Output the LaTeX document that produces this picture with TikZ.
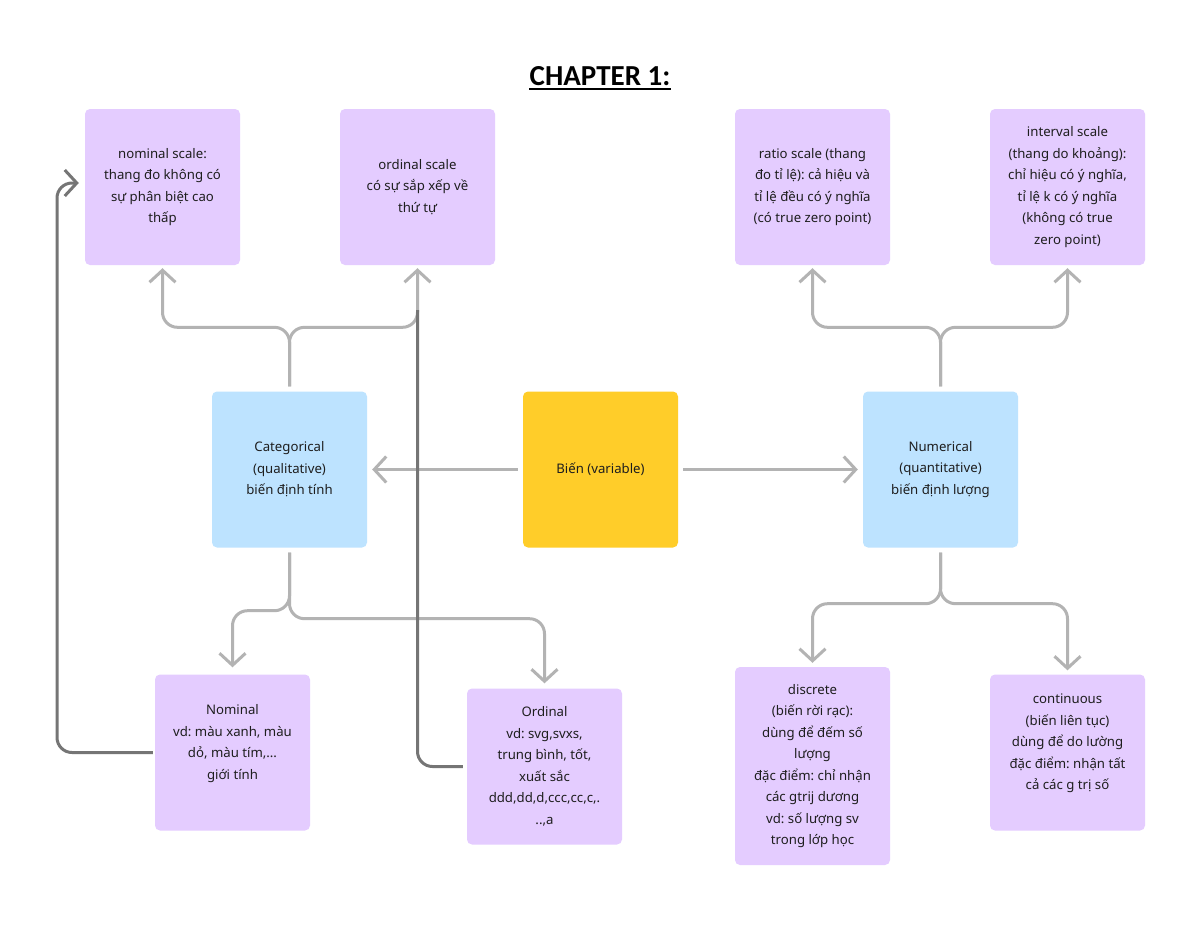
\documentclass[tikz,border=0pt]{standalone}
\usepackage{fontspec}
\setmainfont{Noto Sans}
\newfontfamily\titlefont{Carlito}
\usetikzlibrary{arrows.meta}
\definecolor{purp}{HTML}{E4CCFF}
\definecolor{bluebox}{HTML}{BDE3FF}
\definecolor{yel}{HTML}{FFCD29}
\definecolor{lightc}{HTML}{B3B3B3}
\definecolor{darkc}{HTML}{757575}
\definecolor{txt}{HTML}{1E1E1E}
\frenchspacing
\begin{document}
\begin{tikzpicture}[x=1pt,y=-1pt,
  box/.style={rectangle, rounded corners=5pt, minimum width=155pt, minimum height=156pt,
    inner sep=2pt, align=center, font=\fontsize{13.2}{21.5}\selectfont, text=txt},
  pbox/.style={box, fill=purp},
  bbox/.style={box, fill=bluebox},
  ybox/.style={box, fill=yel},
  boxtext/.style={inner sep=0pt, align=center, font=\fontsize{13.2}{21.5}\selectfont, text=txt},
  conn/.style={draw=lightc, line width=3pt, rounded corners=15pt,
    -{Straight Barb[length=12pt,width=26pt]}},
  dconn/.style={conn, draw=darkc},
  dline/.style={draw=darkc, line width=3pt, rounded corners=15pt}]
\fill[white] (0,0) rectangle (1200,927);
\useasboundingbox (0,0) rectangle (1200,927);

% title
\node[inner sep=0pt, anchor=base, font=\titlefont\bfseries\fontsize{29}{33}\selectfont, text=black] (title) at (600,85) {CHAPTER 1:};
\draw[line width=2.2pt, black] ([yshift=-4pt]title.base west) -- ([yshift=-4pt]title.base east);

% top boxes
\node[pbox] (nomS) at (162.5,187) {nominal scale:\\thang đo không có\\sự phân biệt cao\\thấp};
\node[pbox] (ordS) at (417.5,187) {ordinal scale\\có sự sắp xếp về\\thứ tự};
\node[pbox] (ratio) at (812.5,187) {ratio scale (thang\\đo tỉ lệ): cả hiệu và\\tỉ lệ đều có ý nghĩa\\(có true zero point)};
\node[pbox] (interval) at (1067.5,187) {interval scale\\(thang do khoảng):\\chỉ hiệu có ý nghĩa,\\tỉ lệ k có ý nghĩa\\(không có true\\zero point)};

% middle boxes
\node[bbox] (cat) at (289.5,469.5) {Categorical\\(qualitative)\\biến định tính};
\node[ybox] (bien) at (600.5,469.5) {Biến (variable)};
\node[bbox] (num) at (940.5,469.5) {Numerical\\(quantitative)\\biến định lượng};

% bottom boxes
\node[pbox] (nom) at (232.5,752.5) {};
\node[boxtext] (nomT) at ([yshift=9pt]nom.center) {Nominal\\vd: màu xanh, màu\\dỏ, màu tím,...\\giới tính};
\node[pbox] (ord) at (544.5,766.5) {Ordinal\\vd: svg,svxs,\\trung bình, tốt,\\xuất sắc\\ddd,dd,d,ccc,cc,c,.\\..,a};
\node[pbox, minimum height=198pt] (disc) at (812.5,766) {discrete\\(biến rời rạc):\\dùng để đếm số\\lượng\\đặc điểm: chỉ nhận\\các gtrij dương\\vd: số lượng sv\\trong lớp học};
\node[pbox] (cont) at (1067.5,752.5) {};
\node[boxtext] (contT) at ([yshift=9pt]cont.center) {continuous\\(biến liên tục)\\dùng để do lường\\đặc điểm: nhận tất\\cả các g trị số};

% light connectors
\draw[conn] ([yshift=5pt]cat.north) -- ++(0,-59) -| ([yshift=-3pt]nomS.south);
\draw[conn] ([yshift=5pt]cat.north) -- ++(0,-59) -| ([yshift=-3pt]ordS.south);
\draw[conn] ([yshift=5pt]num.north) -- ++(0,-59) -| ([yshift=-3pt]ratio.south);
\draw[conn] ([yshift=5pt]num.north) -- ++(0,-59) -| ([yshift=-3pt]interval.south);

\draw[conn] ([xshift=-5pt]bien.west) -- ([xshift=5pt]cat.east);
\draw[conn] ([xshift=5pt]bien.east) -- ([xshift=-5pt]num.west);

\draw[conn] ([yshift=-5pt]cat.south) -- ++(0,58) -| ([yshift=7pt]nom.north);
\draw[conn] ([yshift=-5pt]cat.south) -- ++(0,66) -| ([yshift=5pt]ord.north);
\draw[conn] ([yshift=-5pt]num.south) -- ++(0,51) -| ([yshift=4pt]disc.north);
\draw[conn] ([yshift=-5pt]num.south) -- ++(0,51) -| ([yshift=4pt]cont.north);

% dark connectors
\draw[dconn] ([xshift=-2pt]nom.west) -- (57,752.5) |- ([xshift=-6pt,yshift=4pt]nomS.west);
\coordinate (ordJoin) at ([yshift=-45pt]ordS.south);
\draw[dline] ([xshift=-4pt]ord.west) -| (ordJoin);
\end{tikzpicture}
\end{document}
